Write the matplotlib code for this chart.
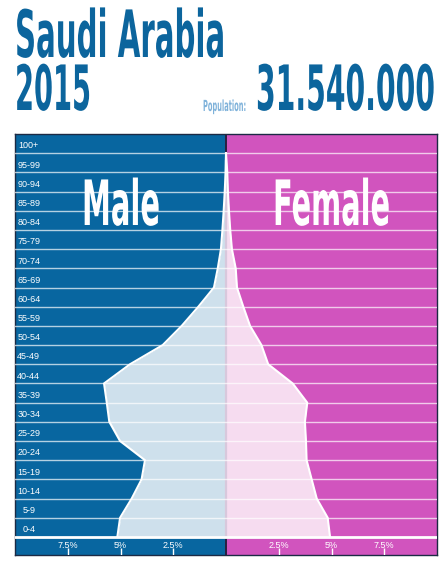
import numpy as np
import matplotlib
matplotlib.use("Agg")
import matplotlib.pyplot as plt
from matplotlib import patheffects
from matplotlib.transforms import Affine2D

# share of total population (%) per age group, 0-4 first
ages = ['0-4', '5-9', '10-14', '15-19', '20-24', '25-29', '30-34', '35-39', '40-44',
        '45-49', '50-54', '55-59', '60-64', '65-69', '70-74', '75-79', '80-84',
        '85-89', '90-94', '95-99', '100+']
male = [5.15, 5.02, 4.47, 4.00, 3.84, 5.02, 5.53, 5.65, 5.78, 4.55, 3.00, 2.10,
        1.31, 0.57, 0.39, 0.24, 0.17, 0.11, 0.06, 0.02, 0.0]
female = [4.93, 4.82, 4.30, 4.06, 3.82, 3.79, 3.74, 3.85, 3.16, 2.00, 1.68, 1.14,
          0.82, 0.52, 0.46, 0.28, 0.20, 0.14, 0.09, 0.06, 0.0]
ticks = [-7.5, -5, -2.5, 2.5, 5, 7.5]
tick_labels = ['7.5%', '5%', '2.5%', '2.5%', '5%', '7.5%']
country = 'Saudi Arabia'
year = '2015'
population = '31.540.000'

BLUE = '#0866a0'
PINK = '#d154be'
LBLUE = '#cee0ec'
LPINK = '#f6dcf0'
TITLE = '#0c659d'

W, H = 447, 572


class Stretch(patheffects.AbstractPathEffect):
    # stretch glyphs upward from the baseline, for a condensed poster font look
    def __init__(self, sy):
        super().__init__()
        self.sy = sy

    def draw_path(self, renderer, gc, tpath, affine, rgbFace=None):
        renderer.draw_path(gc, tpath, Affine2D().scale(1, self.sy) + affine, rgbFace)


fig = plt.figure(figsize=(W / 100, H / 100), dpi=100)
ax = fig.add_axes([15 / W, 1 - 555 / H, 422 / W, 421 / H])

y = np.arange(len(ages))
ax.set_xlim(-10, 10)
ax.set_ylim(-0.94, 21)
ax.axvspan(-10, 0, color=BLUE, zorder=0)
ax.axvspan(0, 10, color=PINK, zorder=0)
ax.axvline(0, color='#2a2040', lw=1.4, zorder=1)

m = -np.array(male)
f = np.array(female)
ax.fill_betweenx(y, m, 0, color=LBLUE, lw=0, zorder=2)
ax.fill_betweenx(y, 0, f, color=LPINK, lw=0, zorder=2)
ax.plot([0, 0], [0, 19.6], color='#d8c8dc', lw=1.6, zorder=3)
ax.plot(m, y, color='white', lw=1.5, zorder=4)
ax.plot(f, y, color='white', lw=1.5, zorder=4)

for k in range(1, 21):
    ax.axhline(k, color='white', lw=1, alpha=0.7, zorder=3)
ax.axhline(0, color='white', lw=2, zorder=4)

for k, a in enumerate(ages):
    ax.text(-9.35, k + 0.38, a, color='white', fontsize=6.5, family='Liberation Sans',
            ha='center', va='center', zorder=5)

ax.vlines(ticks, -0.94, -0.6, color='white', lw=1, zorder=5)
for t, lab in zip(ticks, tick_labels):
    ax.text(t, -0.45, lab, color='white', fontsize=6.5, family='Liberation Sans',
            ha='center', va='center', zorder=6)

ax.set_xticks([])
ax.set_yticks([])
for s in ax.spines.values():
    s.set_color('#1c2a44')
    s.set_linewidth(1)

# condensed texts: (text, left px, baseline px, cap height px, width px, colour)
big = [
    (country, 15, 57, 47, 210, TITLE),
    (year, 15, 110, 45, 76, TITLE),
    (population, 256, 110, 45, 179, TITLE),
    ('Population:', 203, 111, 11, 43, '#7fb2da'),
    ('Male', 82, 225, 45, 78, 'white'),
    ('Female', 273, 225, 45, 117, 'white'),
]
fam = ['Liberation Sans Narrow', 'DejaVu Sans']
fig.canvas.draw()
r = fig.canvas.get_renderer()
for s, x0, base, cap, wpx, col in big:
    size = cap / 0.72 * 72 / 100
    t = fig.text(x0 / W, 1 - base / H, s, color=col, fontsize=size, family=fam,
                 fontweight='bold', ha='left', va='baseline', zorder=10)
    w = t.get_window_extent(renderer=r).width
    # shrink the font until the width fits, then stretch it back up to the cap height
    t.set_fontsize(size * wpx / w)
    t.set_path_effects([Stretch(w / wpx)])

fig.savefig('out.png', dpi=100)
